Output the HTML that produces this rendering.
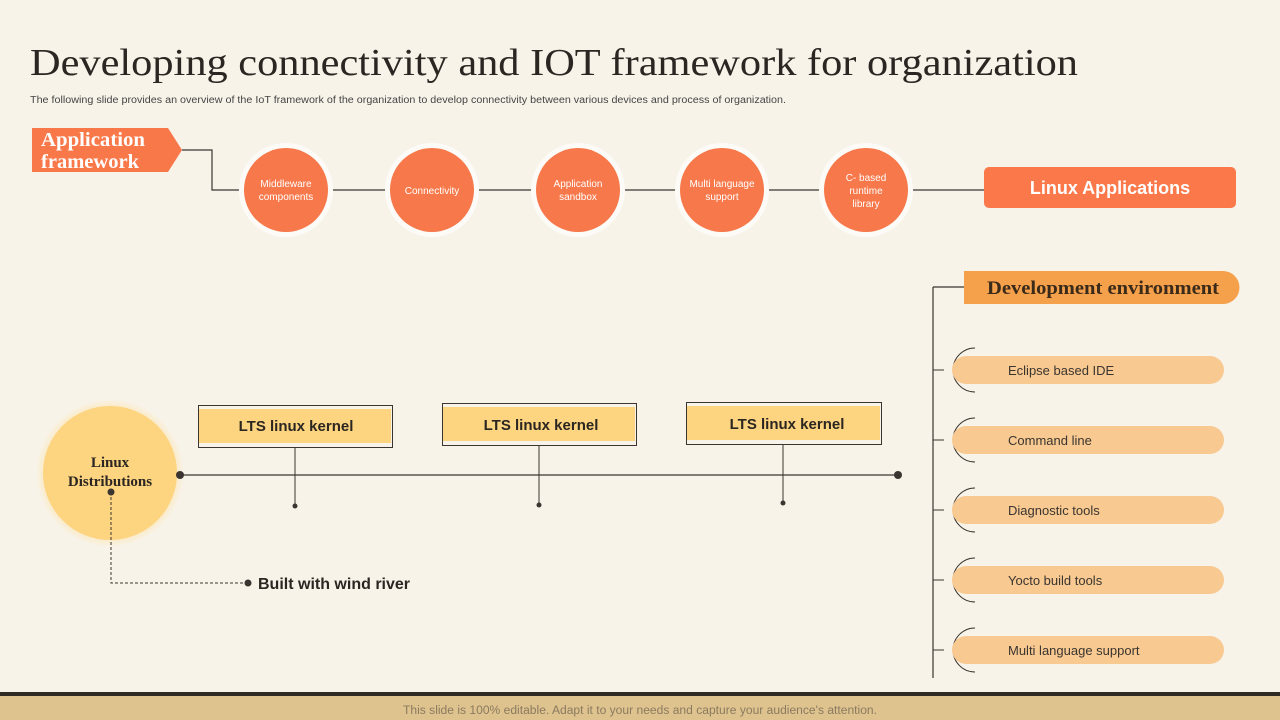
<!DOCTYPE html>
<html><head><meta charset="utf-8"><style>
html,body{margin:0;padding:0;background:#f8f3e9;}
svg{display:block;}
</style></head><body>
<svg width="1280" height="720" viewBox="0 0 1280 720" xmlns="http://www.w3.org/2000/svg">
<defs>
<radialGradient id="glow" cx="50%" cy="50%" r="50%">
<stop offset="85%" stop-color="#fbe7b8"/><stop offset="100%" stop-color="#f8f3e9"/>
</radialGradient>
</defs>
<rect width="1280" height="720" fill="#f8f3e9"/>
<text x="30" y="75" font-family="Liberation Serif, serif" font-size="38" fill="#2b2621" textLength="1048" lengthAdjust="spacingAndGlyphs">Developing connectivity and IOT framework for organization</text>
<text x="30" y="103" font-family="Liberation Sans, sans-serif" font-size="10" fill="#444" textLength="756" lengthAdjust="spacingAndGlyphs">The following slide provides an overview of the IoT framework of the organization to develop connectivity between various devices and process of organization.</text>

<!-- app framework tag -->
<polygon points="32,128 168,128 182,150 168,172 32,172" fill="#f9784a"/>
<text x="41" y="146" font-family="Liberation Serif, serif" font-weight="bold" font-size="20" fill="#fff" textLength="104" lengthAdjust="spacingAndGlyphs">Application</text>
<text x="41" y="168" font-family="Liberation Serif, serif" font-weight="bold" font-size="20" fill="#fff" textLength="98" lengthAdjust="spacingAndGlyphs">framework</text>
<polyline points="182,150 212,150 212,190 984,190" fill="none" stroke="#3a3530" stroke-width="1.2"/>

<g font-family="Liberation Sans, sans-serif" font-size="10" fill="#fff" text-anchor="middle">
<circle cx="286" cy="190" r="47" fill="#fdfbf7"/><circle cx="286" cy="190" r="42" fill="#f7784a"/>
<text x="286" y="187">Middleware</text><text x="286" y="200">components</text>
<circle cx="432" cy="190" r="47" fill="#fdfbf7"/><circle cx="432" cy="190" r="42" fill="#f7784a"/>
<text x="432" y="194">Connectivity</text>
<circle cx="578" cy="190" r="47" fill="#fdfbf7"/><circle cx="578" cy="190" r="42" fill="#f7784a"/>
<text x="578" y="187">Application</text><text x="578" y="200">sandbox</text>
<circle cx="722" cy="190" r="47" fill="#fdfbf7"/><circle cx="722" cy="190" r="42" fill="#f7784a"/>
<text x="722" y="187">Multi language</text><text x="722" y="200">support</text>
<circle cx="866" cy="190" r="47" fill="#fdfbf7"/><circle cx="866" cy="190" r="42" fill="#f7784a"/>
<text x="866" y="181">C- based</text><text x="866" y="194">runtime</text><text x="866" y="207">library</text>
</g>
<rect x="984" y="167" width="252" height="41" rx="5" fill="#fb784a"/>
<text x="1110" y="194" text-anchor="middle" font-family="Liberation Sans, sans-serif" font-weight="bold" font-size="18" fill="#fff">Linux Applications</text>

<!-- dev env -->
<line x1="933" y1="287" x2="933" y2="678" stroke="#3a3530" stroke-width="1.2"/>
<line x1="933" y1="287" x2="964" y2="287" stroke="#3a3530" stroke-width="1.2"/>
<path d="M964,271 H1223 A16.5,16.5 0 0 1 1223,304 H964 Z" fill="#f5a04a"/>
<text x="987" y="294" font-family="Liberation Serif, serif" font-weight="bold" font-size="19" fill="#3a2a1a" textLength="232" lengthAdjust="spacingAndGlyphs">Development environment</text>
<g font-family="Liberation Sans, sans-serif" font-size="13" fill="#3a3530" stroke-width="1">
<g transform="translate(0,370)"><line x1="933" y1="0" x2="944" y2="0" stroke="#3a3530"/><path d="M975,-22 A22,22 0 0 0 975,22" fill="none" stroke="#3a3530"/><rect x="952" y="-14" width="272" height="28" rx="14" fill="#f8c990"/><text x="1008" y="5" stroke="none">Eclipse based IDE</text></g>
<g transform="translate(0,440)"><line x1="933" y1="0" x2="944" y2="0" stroke="#3a3530"/><path d="M975,-22 A22,22 0 0 0 975,22" fill="none" stroke="#3a3530"/><rect x="952" y="-14" width="272" height="28" rx="14" fill="#f8c990"/><text x="1008" y="5" stroke="none">Command  line</text></g>
<g transform="translate(0,510)"><line x1="933" y1="0" x2="944" y2="0" stroke="#3a3530"/><path d="M975,-22 A22,22 0 0 0 975,22" fill="none" stroke="#3a3530"/><rect x="952" y="-14" width="272" height="28" rx="14" fill="#f8c990"/><text x="1008" y="5" stroke="none">Diagnostic  tools</text></g>
<g transform="translate(0,580)"><line x1="933" y1="0" x2="944" y2="0" stroke="#3a3530"/><path d="M975,-22 A22,22 0 0 0 975,22" fill="none" stroke="#3a3530"/><rect x="952" y="-14" width="272" height="28" rx="14" fill="#f8c990"/><text x="1008" y="5" stroke="none">Yocto build tools</text></g>
<g transform="translate(0,650)"><line x1="933" y1="0" x2="944" y2="0" stroke="#3a3530"/><path d="M975,-22 A22,22 0 0 0 975,22" fill="none" stroke="#3a3530"/><rect x="952" y="-14" width="272" height="28" rx="14" fill="#f8c990"/><text x="1008" y="5" stroke="none">Multi language  support</text></g>
</g>

<!-- linux distributions -->
<circle cx="110" cy="473" r="74" fill="url(#glow)"/>
<circle cx="110" cy="473" r="67" fill="#fdd47f"/>
<text x="110" y="467" text-anchor="middle" font-family="Liberation Serif, serif" font-weight="bold" font-size="15" fill="#2b2621">Linux</text>
<text x="110" y="486" text-anchor="middle" font-family="Liberation Serif, serif" font-weight="bold" font-size="15" fill="#2b2621">Distributions</text>
<polyline points="111,492 111,583 248,583" fill="none" stroke="#3a3530" stroke-width="1" stroke-dasharray="3,2"/>
<circle cx="111" cy="492" r="3.5" fill="#3a3530"/>
<circle cx="248" cy="583" r="3.5" fill="#3a3530"/>
<text x="258" y="589" font-family="Liberation Sans, sans-serif" font-weight="bold" font-size="16" fill="#2b2621">Built with wind river</text>

<line x1="180" y1="475" x2="898" y2="475" stroke="#3a3530" stroke-width="1.2"/>
<circle cx="180" cy="475" r="4" fill="#3a3530"/><circle cx="898" cy="475" r="4" fill="#3a3530"/>
<g font-family="Liberation Sans, sans-serif" font-weight="bold" font-size="15" fill="#2b2621" text-anchor="middle">
<rect x="198.5" y="405.5" width="194" height="42" fill="none" stroke="#3a3530"/>
<rect x="199" y="409" width="192" height="34" fill="#fdd47f"/>
<text x="296" y="431">LTS linux kernel</text>
<line x1="295" y1="447" x2="295" y2="506" stroke="#3a3530"/><circle cx="295" cy="506" r="2.5" fill="#3a3530"/>
<rect x="442.5" y="403.5" width="194" height="42" fill="none" stroke="#3a3530"/>
<rect x="443" y="407" width="192" height="34" fill="#fdd47f"/>
<text x="541" y="430">LTS linux kernel</text>
<line x1="539" y1="446" x2="539" y2="505" stroke="#3a3530"/><circle cx="539" cy="505" r="2.5" fill="#3a3530"/>
<rect x="686.5" y="402.5" width="195" height="42" fill="none" stroke="#3a3530"/>
<rect x="687" y="406" width="193" height="34" fill="#fdd47f"/>
<text x="787" y="429">LTS linux kernel</text>
<line x1="783" y1="445" x2="783" y2="503" stroke="#3a3530"/><circle cx="783" cy="503" r="2.5" fill="#3a3530"/>
</g>

<!-- footer -->
<rect x="0" y="692" width="1280" height="4" fill="#2f2a22"/>
<rect x="0" y="696" width="1280" height="24" fill="#dfc38e"/>
<text x="403" y="714" font-family="Liberation Sans, sans-serif" font-size="11.5" fill="#8a7a60" textLength="474" lengthAdjust="spacingAndGlyphs">This slide is 100% editable. Adapt it to your needs and capture your audience's attention.</text>
</svg>
</body></html>
